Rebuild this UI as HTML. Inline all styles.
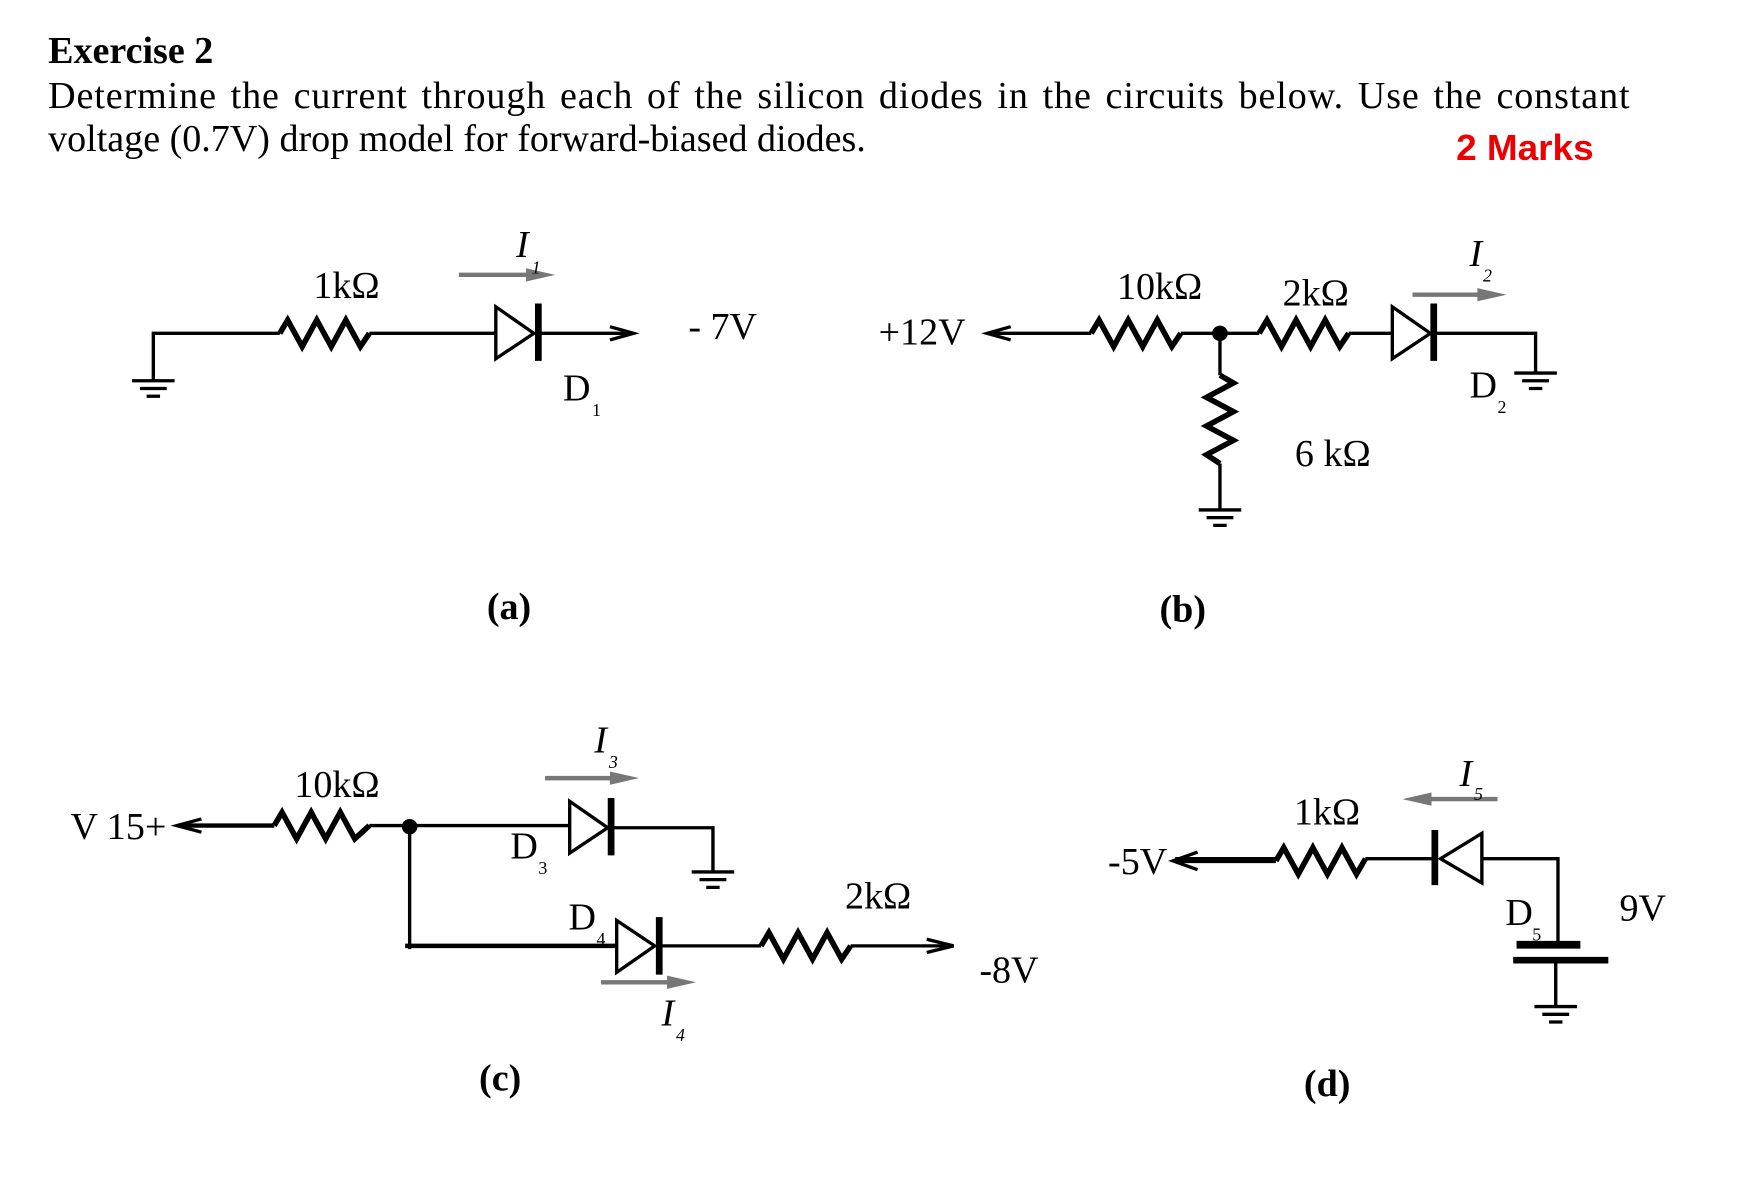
<!DOCTYPE html>
<html><head><meta charset="utf-8"><style>
html,body{margin:0;padding:0;background:#fff;}
svg{display:block;}
text{font-family:"Liberation Serif",serif;fill:#000;}
.w{stroke:#000;stroke-width:3;fill:none;}
.r{stroke:#000;stroke-width:5;fill:none;stroke-linejoin:miter;}
.g{stroke:#777;stroke-width:4;fill:none;}
</style></head><body>
<svg width="1746" height="1192" viewBox="0 0 1560 1080" preserveAspectRatio="none" xmlns="http://www.w3.org/2000/svg">
<text x="43" y="57" font-size="34" font-weight="bold">Exercise 2</text>
<text x="43" y="98" font-size="34" textLength="1413" lengthAdjust="spacing" word-spacing="3">Determine the current through each of the silicon diodes in the circuits below. Use the constant</text>
<text x="43" y="137" font-size="34">voltage (0.7V) drop model for forward-biased diodes.</text>
<text x="1301" y="145" font-size="33" font-weight="bold" style="font-family:'Liberation Sans',sans-serif;fill:#e00">2 Marks</text>

<!-- (a) -->
<path class="w" d="M137 345 V302 H250 M330 302 H442 M481 302 H560"/>
<path class="w" d="M545 296 L566 302 L545 308"/>
<path class="w" d="M118 345 H156" stroke-width="4"/><path class="w" d="M125 352 H149" stroke-width="4"/><path class="w" d="M131 359 H143" stroke-width="4"/>
<path class="r" d="M250 302 L257 290 L270 314 L283 290 L296 314 L309 290 L322 314 L330 302"/>
<path class="w" stroke-width="4" d="M443 278 V325 L477 302 Z"/>
<path stroke="#000" stroke-width="6" d="M481 275 V327"/>
<path class="g" d="M410 249 H480"/><path fill="#777" d="M470 243 L496 249 L470 255 Z"/>
<text x="280" y="270" font-size="34">1kΩ</text>
<text x="615" y="307" font-size="34">- 7V</text>
<text x="461" y="233" font-size="34" font-style="italic">I</text><text x="475" y="248" font-size="16" font-style="italic">1</text>
<text x="503" y="363" font-size="34">D</text><text x="529" y="377" font-size="16">1</text>
<text x="435" y="561" font-size="34" font-weight="bold">(a)</text>

<!-- (b) -->
<path class="w" d="M882 302 H975 M1055 302 H1125 M1205 302 H1243 M1281 302 H1372 V338 M1090 302 V340 M1090 420 V462"/>
<path class="w" d="M903 296 L882 302 L903 308"/>
<circle cx="1090" cy="302" r="7" fill="#000"/>
<path class="r" d="M975 302 L982 290 L995 314 L1008 290 L1021 314 L1034 290 L1047 314 L1055 302"/>
<path class="r" d="M1125 302 L1132 290 L1145 314 L1158 290 L1171 314 L1184 290 L1197 314 L1205 302"/>
<path class="r" d="M1090 340 L1102 347 L1078 360 L1102 373 L1078 386 L1102 399 L1078 412 L1090 420"/>
<path class="w" stroke-width="4" d="M1244 278 V325 L1278 302 Z"/>
<path stroke="#000" stroke-width="6" d="M1281 275 V327"/>
<path class="w" stroke-width="4" d="M1353 338 H1391 M1360 345 H1384 M1366 352 H1378"/>
<path class="w" stroke-width="4" d="M1071 462 H1109 M1078 469 H1102 M1084 476 H1096"/>
<path class="g" d="M1262 267 H1330"/><path fill="#777" d="M1320 261 L1346 267 L1320 273 Z"/>
<text x="785" y="312" font-size="34">+12V</text>
<text x="998" y="271" font-size="34">10kΩ</text>
<text x="1146" y="277" font-size="34">2kΩ</text>
<text x="1157" y="422" font-size="34">6 kΩ</text>
<text x="1313" y="241" font-size="34" font-style="italic">I</text><text x="1325" y="255" font-size="16" font-style="italic">2</text>
<text x="1313" y="360" font-size="34">D</text><text x="1338" y="374" font-size="16">2</text>
<text x="1036" y="563" font-size="34" font-weight="bold">(b)</text>

<!-- (c) -->
<path class="w" d="M158 748 H245 M330 748 H508 M546 750 H637 V790 M366 748 V860 M589 857 H680 M760 857 H845"/>
<path stroke="#000" stroke-width="4" d="M160 748 H245 M362 857 H550"/>
<path class="w" d="M180 742 L158 748 L180 754"/>
<path class="w" d="M828 851 L852 857 L828 863"/>
<circle cx="366" cy="749" r="7" fill="#000"/>
<path class="r" d="M245 748 L252 736 L265 760 L278 736 L291 760 L304 736 L317 760 L330 748"/>
<path class="r" d="M680 857 L687 845 L700 869 L713 845 L726 869 L739 845 L752 869 L760 857"/>
<path class="w" stroke-width="4" d="M509 726 V773 L543 750 Z"/>
<path stroke="#000" stroke-width="6" d="M546 723 V775"/>
<path class="w" stroke-width="4" d="M551 834 V881 L585 857 Z"/>
<path stroke="#000" stroke-width="6" d="M589 831 V883"/>
<path class="w" stroke-width="4" d="M618 790 H656 M625 797 H649 M631 804 H643"/>
<path class="g" d="M487 705 H555"/><path fill="#777" d="M545 699 L571 705 L545 711 Z"/>
<path class="g" d="M537 890 H605"/><path fill="#777" d="M596 884 L622 890 L596 896 Z"/>
<text x="63" y="760" font-size="34">V 15+</text>
<text x="263" y="722" font-size="34">10kΩ</text>
<text x="755" y="823" font-size="34">2kΩ</text>
<text x="875" y="890" font-size="34">-8V</text>
<text x="456" y="778" font-size="34">D</text><text x="481" y="792" font-size="16">3</text>
<text x="508" y="842" font-size="34">D</text><text x="533" y="856" font-size="16">4</text>
<text x="531" y="682" font-size="34" font-style="italic">I</text><text x="544" y="696" font-size="16" font-style="italic">3</text>
<text x="591" y="929" font-size="34" font-style="italic">I</text><text x="604" y="943" font-size="16" font-style="italic">4</text>
<text x="428" y="988" font-size="34" font-weight="bold">(c)</text>

<!-- (d) -->
<path class="w" d="M1050 778 H1140 M1220 778 H1282 M1325 778 H1392 V856 M1390 870 V912"/>
<path stroke="#000" stroke-width="4" d="M1050 780 H1140"/>
<path class="w" d="M1070 772 L1048 780 L1070 788"/>
<path class="r" d="M1140 780 L1147 768 L1160 792 L1173 768 L1186 792 L1199 768 L1212 792 L1220 778"/>
<path stroke="#000" stroke-width="6" d="M1282 752 V802"/>
<path class="w" stroke-width="4" d="M1324 755 V800 L1287 778 Z"/>
<path stroke="#000" stroke-width="7" d="M1355 856 H1412"/>
<path stroke="#000" stroke-width="6" d="M1352 870 H1437"/>
<path class="w" stroke-width="4" d="M1371 912 H1409 M1378 919 H1402 M1384 926 H1396"/>
<path class="g" d="M1270 724 H1338"/><path fill="#777" d="M1279 718 L1253 724 L1279 730 Z"/>
<text x="990" y="792" font-size="34">-5V</text>
<text x="1156" y="747" font-size="34">1kΩ</text>
<text x="1447" y="834" font-size="34">9V</text>
<text x="1345" y="838" font-size="34">D</text><text x="1369" y="852" font-size="16">5</text>
<text x="1304" y="712" font-size="34" font-style="italic">I</text><text x="1317" y="725" font-size="16" font-style="italic">5</text>
<text x="1165" y="993" font-size="34" font-weight="bold">(d)</text>
</svg>
</body></html>
